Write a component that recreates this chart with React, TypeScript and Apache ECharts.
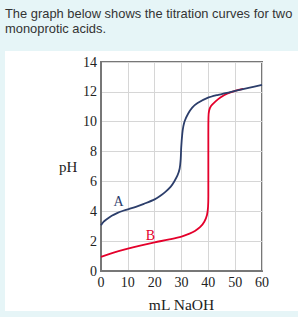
import React, { useEffect, useRef } from "react";
import * as echarts from "echarts";

const titleLines = ["The graph below shows the titration curves for two", "monoprotic acids."];
const xTicks = [0, 10, 20, 30, 40, 50, 60];
const curveA: [number, number][] = [
  [0, 3.07], [1, 3.3], [2, 3.45], [4, 3.7], [6, 3.88], [8, 4.02], [10, 4.13], [13, 4.3], [16, 4.5],
  [20, 4.8], [22, 5.02], [24, 5.3], [26, 5.65], [27.3, 6.0], [28.5, 6.4], [29.3, 6.85], [29.7, 7.5],
  [29.9, 8.3], [30.3, 9.2], [30.7, 9.7], [31.2, 10.05], [32.5, 10.55], [34, 10.95], [36, 11.25],
  [39.5, 11.58], [43.7, 11.8], [50, 12.07], [55, 12.27], [60, 12.47],
];
const curveB: [number, number][] = [
  [0, 0.95], [5, 1.25], [10, 1.5], [15, 1.72], [20, 1.92], [25, 2.1], [30, 2.3], [33, 2.5],
  [35, 2.68], [37, 2.95], [38.5, 3.3], [39.5, 3.75], [39.9, 4.3], [40, 5], [40, 9], [40.05, 10.3],
  [40.3, 10.75], [41, 11.05], [42.6, 11.35], [44.5, 11.62], [47, 11.88], [50, 12.07], [53, 12.2],
];
const labelA = { name: "A", coord: [6.5, 4.65] };
const labelB = { name: "B", coord: [18.4, 2.38] };

const NAVY = "#2c3e6b";
const RED = "#e4002b";
const SERIF = "'Liberation Serif', serif";

export default function App() {
  const ref = useRef<HTMLDivElement>(null);
  useEffect(() => {
    const chart = echarts.init(ref.current!, null, { renderer: "svg" });
    chart.setOption({
      animation: false,
      backgroundColor: "#e6f5f7",
      graphic: [
        { type: "rect", shape: { x: 5, y: 51, width: 293, height: 260 }, style: { fill: "#ffffff" }, z: -10 },
        {
          type: "text", left: 5, top: 6,
          style: { text: titleLines.join("\n"), font: "12.9px 'Liberation Sans', Arial, sans-serif", fill: "#333", lineHeight: 15 },
        },
        {
          type: "text", left: 59, top: 159,
          style: { text: "pH", font: `15px ${SERIF}`, fill: "#222" },
        },
      ],
      grid: { left: 101, right: 36, top: 62, bottom: 45, show: true, borderColor: "#777", borderWidth: 2, backgroundColor: "transparent" },
      xAxis: {
        type: "value", min: 0, max: 60, interval: 10,
        name: "mL NaOH", nameLocation: "middle", nameGap: 25,
        nameTextStyle: { fontFamily: SERIF, fontSize: 15.5, color: "#222" },
        axisLine: { show: true, lineStyle: { color: "#777", width: 2 } },
        axisTick: { show: false },
        axisLabel: { fontFamily: SERIF, fontSize: 14, color: "#222", margin: 4, formatter: (v: number) => (xTicks.includes(v) ? String(v) : "") },
        splitLine: { show: true, lineStyle: { color: "#d6d6d6", width: 1 } },
      },
      yAxis: {
        type: "value", min: 0, max: 14, interval: 2,
        axisLine: { show: true, lineStyle: { color: "#777", width: 2 } },
        axisTick: { show: false },
        axisLabel: { fontFamily: SERIF, fontSize: 14, color: "#222", margin: 4 },
        splitLine: { show: true, lineStyle: { color: "#d6d6d6", width: 1 } },
      },
      series: [
        {
          type: "line", data: curveB, showSymbol: false, smooth: 0.3, z: 2,
          lineStyle: { color: RED, width: 1.8 },
          markPoint: {
            symbol: "circle", symbolSize: 0,
            label: { show: true, formatter: "{b}", color: RED, fontFamily: SERIF, fontSize: 14 },
            data: [labelB],
          },
        },
        {
          type: "line", data: curveA, showSymbol: false, smooth: 0.3, z: 3,
          lineStyle: { color: NAVY, width: 1.8 },
          markPoint: {
            symbol: "circle", symbolSize: 0,
            label: { show: true, formatter: "{b}", color: NAVY, fontFamily: SERIF, fontSize: 14 },
            data: [labelA],
          },
        },
      ],
    });
    return () => chart.dispose();
  }, []);
  return <div ref={ref} style={{ position: "fixed", left: 0, top: 0, width: 298, height: 317 }} />;
}
